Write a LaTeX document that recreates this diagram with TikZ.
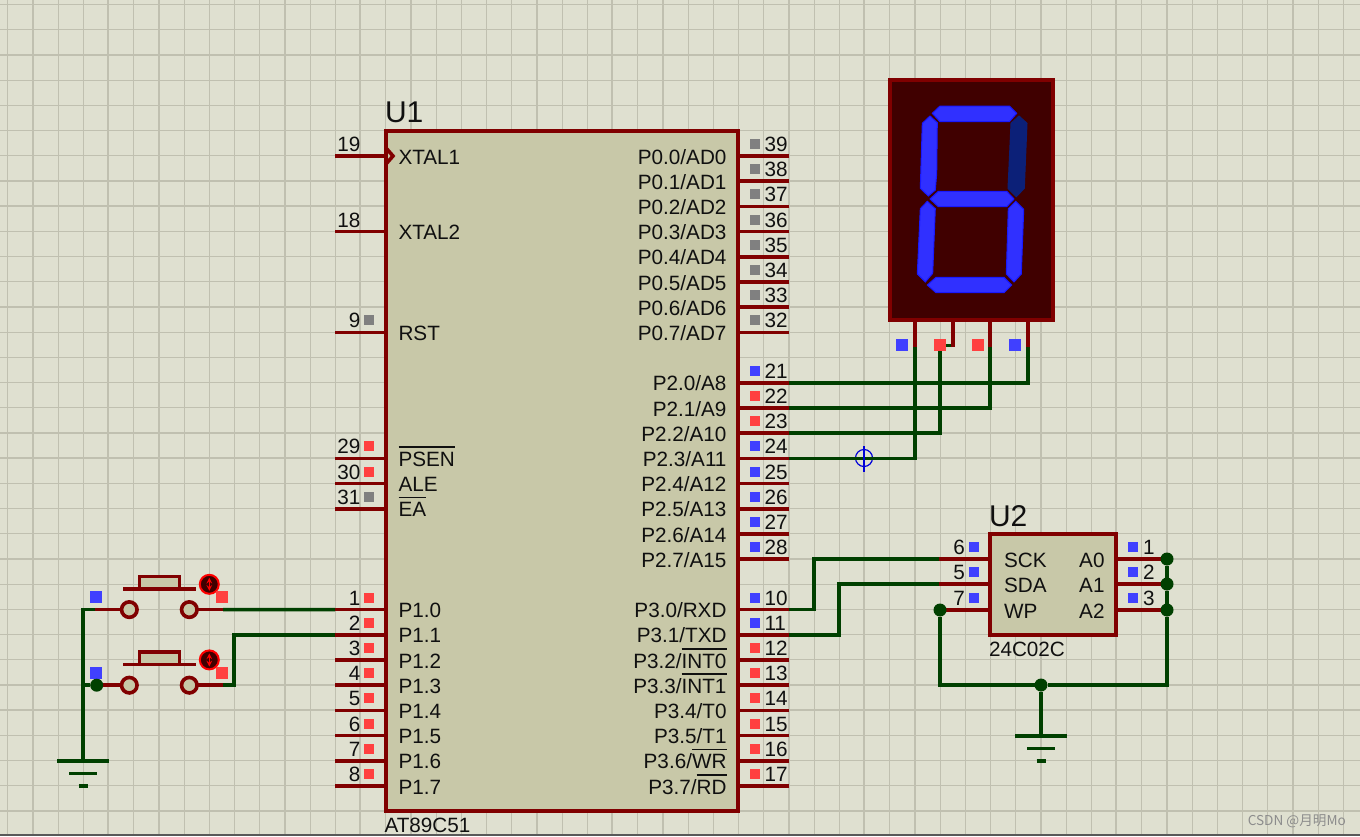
\documentclass[tikz,border=0pt]{standalone}
\usepackage{fontspec}
\setmainfont{Liberation Sans}
\newfontfamily\cjkmark{Noto Sans CJK SC}
\usepackage{xcolor}
\usetikzlibrary{positioning,calc}
\definecolor{sheetbg}{RGB}{223,224,208}
\definecolor{gridline}{RGB}{192,192,176}
\definecolor{chipfill}{RGB}{200,200,168}
\definecolor{pinred}{RGB}{128,0,0}
\definecolor{wiregreen}{RGB}{0,64,0}
\definecolor{ledoff}{RGB}{64,0,0}
\definecolor{ledseg}{RGB}{48,48,255}
\definecolor{ledsegedge}{RGB}{24,24,255}
\definecolor{leddim}{RGB}{12,32,120}
\definecolor{statblue}{RGB}{64,64,255}
\definecolor{statred}{RGB}{255,64,64}
\definecolor{statgray}{RGB}{128,128,128}
\definecolor{inktext}{RGB}{16,16,16}
\newcommand{\ovl}[1]{\leavevmode\setbox0\hbox{#1}\rlap{\rule[18.5pt]{\wd0}{1.8pt}}\box0}
\tikzset{
    pinline/.style={draw=pinred, line width=3.6pt},
    wire/.style={draw=wiregreen, line width=3.6pt, line join=miter},
    groundbar/.style={draw=wiregreen, line width=3.6pt},
    chip/.style={draw=pinred, fill=chipfill, line width=4pt, inner sep=0pt, outer sep=0pt},
    pintext/.style={text=inktext, font=\fontsize{20.7}{21}\selectfont, inner sep=0pt, outer sep=0pt},
    bigtext/.style={text=inktext, font=\fontsize{30}{31}\selectfont, inner sep=0pt, outer sep=0pt, anchor=base west},
    stat/.style={minimum size=#1, inner sep=0pt, outer sep=0pt},
    junction/.style={circle, fill=wiregreen, minimum size=13pt, inner sep=0pt, outer sep=0pt},
    terminal/.style={circle, draw=pinred, fill=chipfill, line width=3.6pt, minimum size=15.5pt, inner sep=0pt, outer sep=0pt},
    seg/.style={fill=ledseg, draw=ledsegedge, line width=1pt},
    segdim/.style={fill=leddim, draw=leddim, line width=1pt},
    indicator/.style={circle, draw=red, fill=ledoff, line width=2pt, minimum size=19pt, inner sep=0pt, outer sep=0pt}
}

\begin{document}
\begin{tikzpicture}[x=1pt, y=-1pt]
    \useasboundingbox (0,0) rectangle (1360,836);
    \fill[sheetbg] (0,0) rectangle (1360,836);

    % Grid
    \foreach \i in {0,...,53} {
        \draw[gridline, line width=1.2pt] ({7.7+25.2*\i},0) -- ({7.7+25.2*\i},834);
    }
    \foreach \j in {0,...,32} {
        \draw[gridline, line width=1.2pt] (0,{4.6+25.2*\j}) -- (1360,{4.6+25.2*\j});
    }
    \foreach \i in {108,360,612,864,1116} {
        \draw[gridline, line width=2pt] (\i,0) -- (\i,834);
    }
    \foreach \j in {206,458,710} {
        \draw[gridline, line width=2pt] (0,\j) -- (1360,\j);
    }
    \draw[black!65, line width=2pt] (0,835) -- (1360,835);

    % U1
    \node[chip, minimum width=352pt, minimum height=680pt] (U1) at (562,471) {};
    \node[bigtext] (U1name) at (385,122.5) {U1};
    \node[pintext, anchor=base west] (U1type) at (384.5,832) {AT89C51};
    \draw[pinline] (386,148) -- (393,156) -- (386,164);

    % Left pins of U1: number / row / status colour / label
    \foreach \n/\rw/\st/\txt in {19/0/none/XTAL1, 18/3/none/XTAL2, 9/7/statgray/RST,
        29/12/statred/{\ovl{PSEN}}, 30/13/statred/ALE, 31/14/statgray/{\ovl{EA}},
        1/18/statred/P1.0, 2/19/statred/P1.1, 3/20/statred/P1.2, 4/21/statred/P1.3,
        5/22/statred/P1.4, 6/23/statred/P1.5, 7/24/statred/P1.6, 8/25/statred/P1.7} {
        \coordinate (p\n) at (335,{156+25.2*\rw});
        \draw[pinline] (p\n) -- (p\n -| U1.west);
        \node[pintext, anchor=base east] (num\n) at (360.5,{151.5+25.2*\rw}) {\n};
        \node[pintext, anchor=base west] (lbl\n) at (398.5,{164+25.2*\rw}) {\txt};
        \node[stat=10pt, fill=\st] (st\n) at (369,{144+25.2*\rw}) {};
    }

    % Right pins of U1
    \foreach \n/\rw/\st/\txt in {39/0/statgray/{P0.0/AD0}, 38/1/statgray/{P0.1/AD1}, 37/2/statgray/{P0.2/AD2},
        36/3/statgray/{P0.3/AD3}, 35/4/statgray/{P0.4/AD4}, 34/5/statgray/{P0.5/AD5},
        33/6/statgray/{P0.6/AD6}, 32/7/statgray/{P0.7/AD7},
        21/9/statblue/{P2.0/A8}, 22/10/statred/{P2.1/A9}, 23/11/statred/{P2.2/A10}, 24/12/statblue/{P2.3/A11},
        25/13/statblue/{P2.4/A12}, 26/14/statblue/{P2.5/A13}, 27/15/statblue/{P2.6/A14}, 28/16/statblue/{P2.7/A15},
        10/18/statblue/{P3.0/RXD}, 11/19/statblue/{P3.1/TXD}, 12/20/statred/{P3.2/\ovl{INT0}}, 13/21/statred/{P3.3/\ovl{INT1}},
        14/22/statred/{P3.4/T0}, 15/23/statred/{P3.5/T1}, 16/24/statred/{P3.6/\ovl{WR}}, 17/25/statred/{P3.7/\ovl{RD}}} {
        \coordinate (p\n) at (789,{156+25.2*\rw});
        \draw[pinline] (p\n) -- (p\n -| U1.east);
        \node[pintext, anchor=base west] (num\n) at (764.5,{151.5+25.2*\rw}) {\n};
        \node[pintext, anchor=base east] (lbl\n) at (726.5,{164+25.2*\rw}) {\txt};
        \node[stat=10pt, fill=\st] (st\n) at (755,{144+25.2*\rw}) {};
    }

    % Seven segment display
    \node[chip, fill=ledoff, minimum width=163pt, minimum height=240pt] (LED) at (971.5,200) {};
    \fill[seg] (932.3,113.3) -- (940,106) -- (1009.3,106) -- (1016.7,113.3) -- (1009.3,121.7) -- (940,121.7) -- cycle;
    \fill[seg] (930,199) -- (938.3,191.3) -- (1006.7,191.3) -- (1014,199) -- (1006.7,206.7) -- (938.3,206.7) -- cycle;
    \fill[seg] (927.3,285) -- (936,277.3) -- (1004,277.3) -- (1011.7,285) -- (1004,292.7) -- (936,292.7) -- cycle;
    \fill[seg] (930,116) -- (937.3,122.7) -- (936.7,173.3) -- (935.3,190) -- (928.3,196) -- (920.3,188.3) -- (922.3,123.3) -- cycle;
    \fill[segdim] (1019,116) -- (1027,123.3) -- (1024.3,188.3) -- (1016.3,196.7) -- (1008,188.3) -- (1011,123.3) -- cycle;
    \fill[seg] (927.3,201.3) -- (935.3,208.7) -- (932.7,273.3) -- (925.3,282) -- (917.3,274) -- (920.3,208.7) -- cycle;
    \fill[seg] (1015.7,201.3) -- (1023.7,209.3) -- (1021.3,274) -- (1014,282) -- (1006.3,274) -- (1008.3,208.7) -- cycle;

    % Probe cursor under the wire
    \node[circle, draw=blue!85!black, line width=1.2pt, minimum size=17pt, inner sep=0pt] (probe) at (864,458) {};

    % Wires from port 2 to the display
    \coordinate (ledbj) at (940,345.5);
    \foreach \n/\px in {a/915, b/953, c/990, d/1028} {
        \coordinate (led\n) at (\px,347);
    }
    \draw[wire] (p21) -| (ledd);
    \draw[wire] (p22) -| (ledc);
    \draw[wire] (p23) -| (ledbj) -- (ledbj -| ledb);
    \draw[wire] (p24) -| (leda);
    \draw[blue!85!black, line width=1.2pt] (probe.center) ++(0,-12) -- ++(0,26);

    % Display pins
    \foreach \n in {a, b, c, d} {
        \draw[pinline] (led\n) -- (led\n |- LED.south);
    }
    \foreach \n/\px/\st in {a/902/statblue, b/940/statred, c/978/statred, d/1015/statblue} {
        \node[stat=12pt, fill=\st] (stled\n) at (\px,345) {};
    }

    % U2
    \node[chip, minimum width=126pt, minimum height=101pt] (U2) at (1053,584.5) {};
    \node[bigtext] (U2name) at (989,526) {U2};
    \node[pintext, anchor=base west] (U2type) at (989,656.5) {24C02C};

    % Pins of U2
    \foreach \n/\py/\txt in {6/559/SCK, 5/584/SDA, 7/610/WP} {
        \coordinate (q\n) at (939,\py);
        \draw[pinline] (q\n) -- (q\n -| U2.west);
        \node[pintext, anchor=base east] (qnum\n) at (965,{\py-4.5}) {\n};
        \node[pintext, anchor=base west] (qlbl\n) at (1004,{\py+8}) {\txt};
        \node[stat=10pt, fill=statblue] (qst\n) at (974,{\py-12}) {};
    }
    \foreach \n/\py/\txt in {1/559/A0, 2/584/A1, 3/610/A2} {
        \coordinate (q\n) at (1167,\py);
        \draw[pinline] (q\n) -- (q\n -| U2.east);
        \node[pintext, anchor=base west] (qnum\n) at (1143,{\py-4.5}) {\n};
        \node[pintext, anchor=base east] (qlbl\n) at (1104.5,{\py+8}) {\txt};
        \node[stat=10pt, fill=statblue] (qst\n) at (1133,{\py-12}) {};
    }

    % Wires from port 3 to U2
    \coordinate (bendsck) at (814,584);
    \coordinate (bendsda) at (839,584);
    \draw[wire] (p10) -| (bendsck) |- (q6);
    \draw[wire] (p11) -| (bendsda) -- (q5);

    % Address and write protect tied to ground
    \node[junction] (jA0) at (q1) {};
    \node[junction] (jA1) at (q2) {};
    \node[junction] (jA2) at (q3) {};
    \node[junction] (jWP) at (940,610) {};
    \node[junction] (jgnd) at (1041,685) {};
    \draw[wire] (jA0) -- (jA1) -- (jA2) -- (jA2 |- jgnd) -- (jgnd) -- (jgnd -| jWP) -- (jWP);
    \coordinate (gndU2) at (1041,736);
    \draw[wire] (jgnd) -- (gndU2);
    \draw[groundbar] ($(gndU2)+(-26,0)$) -- ($(gndU2)+(26,0)$);
    \draw[groundbar] ($(gndU2)+(-14,12.5)$) -- ($(gndU2)+(14,12.5)$);
    \draw[groundbar] ($(gndU2)+(-4.5,25)$) -- ($(gndU2)+(4.5,25)$);

    % Push buttons
    \foreach \s/\by in {1/0, 2/75.6} {
        \coordinate (sl\s) at (95,{609.6+\by});
        \coordinate (sr\s) at (223,{609.6+\by});
        \node[terminal] (sa\s) at (129.3,{609.6+\by}) {};
        \node[terminal] (sb\s) at (189.3,{609.6+\by}) {};
        \draw[pinline] (sl\s) -- (sa\s);
        \draw[pinline] (sb\s) -- (sr\s);
        \coordinate (bar\s) at (159.5,{589+\by});
        \draw[pinred, line width=3.6pt, fill=chipfill] ($(bar\s)+(-20,0)$) -- ++(0,-12.5) -- ++(40,0) -- ++(0,12.5);
        \draw[pinline] ($(bar\s)+(-36.5,0)$) -- ($(bar\s)+(36.5,0)$);
        \node[indicator] (ind\s) at (209.3,{584.3+\by}) {};
        \draw[red, line width=1.5pt, <->, >=stealth] ($(ind\s)+(0,-6.5)$) -- ($(ind\s)+(0,6.5)$);
        \node[stat=12pt, fill=statred] (stsr\s) at (222,{597+\by}) {};
        \node[stat=12pt, fill=statblue] (stsl\s) at (96,{597+\by}) {};
    }

    % Button wires
    \coordinate (gndsw) at (83,761);
    \coordinate (bendsw) at (234,650);
    \draw[wire] (sr1) -- (p1);
    \draw[wire] (sr2) -| (bendsw) |- (p2);
    \draw[wire] (sl1) -| (gndsw);
    \node[junction] (jsw) at (96.7,685.2) {};
    \draw[wire] (jsw) -- (jsw -| gndsw);
    \draw[groundbar] ($(gndsw)+(-26,0)$) -- ($(gndsw)+(26,0)$);
    \draw[groundbar] ($(gndsw)+(-14,12.5)$) -- ($(gndsw)+(14,12.5)$);
    \draw[groundbar] ($(gndsw)+(-4.5,25)$) -- ($(gndsw)+(4.5,25)$);

    % Mark in the corner
    \node[text=black!45, font=\fontsize{13.6}{14}\cjkmark, inner sep=0pt, anchor=east] (mark) at (1346,821) {CSDN @月明Mo};
\end{tikzpicture}
\end{document}
